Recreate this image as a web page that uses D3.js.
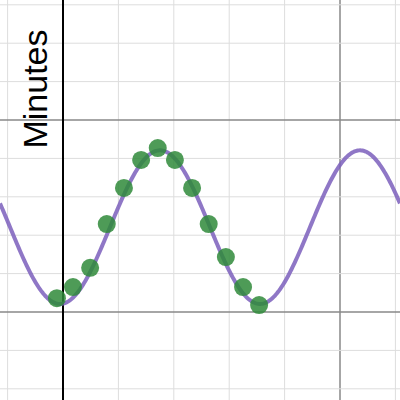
<!DOCTYPE html>
<html><head><meta charset="utf-8">
<script src="https://cdn.jsdelivr.net/npm/d3@7"></script>
<style>html,body{margin:0;padding:0;background:#fff}</style>
</head><body>
<svg id="c" width="400" height="400"></svg>
<script>
// data points (x, value)
const pointX = [-0.11, 0.18, 0.49, 0.79, 1.10, 1.41, 1.71, 2.02, 2.33, 2.63, 2.94, 3.25, 3.54];
const pointY = [10.36, 10.65, 11.15, 12.29, 13.23, 13.96, 14.27, 13.96, 13.23, 12.29, 11.43, 10.65, 10.18];
// fitted model params
const midline = 12.21, amp = 2.0, period = 3.61, shift = -0.054;

const W = 400, H = 400;
const x = d3.scaleLinear().domain([-63 / 55.4, (400 - 63) / 55.4]).range([0, W]);
const y = d3.scaleLinear().domain([10 - 88 / 38.4, 10 + 312 / 38.4]).range([H, 0]);
const svg = d3.select('#c');

// grid
const xt = d3.range(-1, 7), yt = d3.range(8, 19);
svg.append('g').selectAll('line').data(xt).join('line')
  .attr('x1', d => x(d)).attr('x2', d => x(d)).attr('y1', 0).attr('y2', H)
  .attr('stroke', d => d % 5 === 0 ? '#888' : '#ddd').attr('stroke-width', d => d % 5 === 0 ? 1.5 : 1);
svg.append('g').selectAll('line').data(yt).join('line')
  .attr('y1', d => y(d)).attr('y2', d => y(d)).attr('x1', 0).attr('x2', W)
  .attr('stroke', d => d % 5 === 0 ? '#888' : '#ddd').attr('stroke-width', d => d % 5 === 0 ? 1.5 : 1);
// y axis
svg.append('line').attr('x1', x(0)).attr('x2', x(0)).attr('y1', 0).attr('y2', H)
  .attr('stroke', '#000').attr('stroke-width', 2);

svg.append('text').attr('transform', `translate(47,89) rotate(-90)`)
  .attr('text-anchor', 'middle').style('font-family', 'Liberation Sans, Arial, sans-serif')
  .style('font-size', '34px').attr('fill', '#000').text('Minutes');

// curve
const f = t => midline - amp * Math.cos(2 * Math.PI * (t - shift) / period);
const xs = d3.range(x.domain()[0], x.domain()[1] + 0.01, 0.02);
svg.append('path').datum(xs)
  .attr('d', d3.line().x(d => x(d)).y(d => y(f(d))))
  .attr('fill', 'none').attr('stroke', '#7b5fbc').attr('stroke-opacity', 0.85).attr('stroke-width', 4);

svg.append('g').selectAll('circle').data(pointX).join('circle')
  .attr('cx', d => x(d)).attr('cy', (d, i) => y(pointY[i])).attr('r', 9)
  .attr('fill', '#2f8a3a').attr('fill-opacity', 0.85);
</script>
</body></html>
